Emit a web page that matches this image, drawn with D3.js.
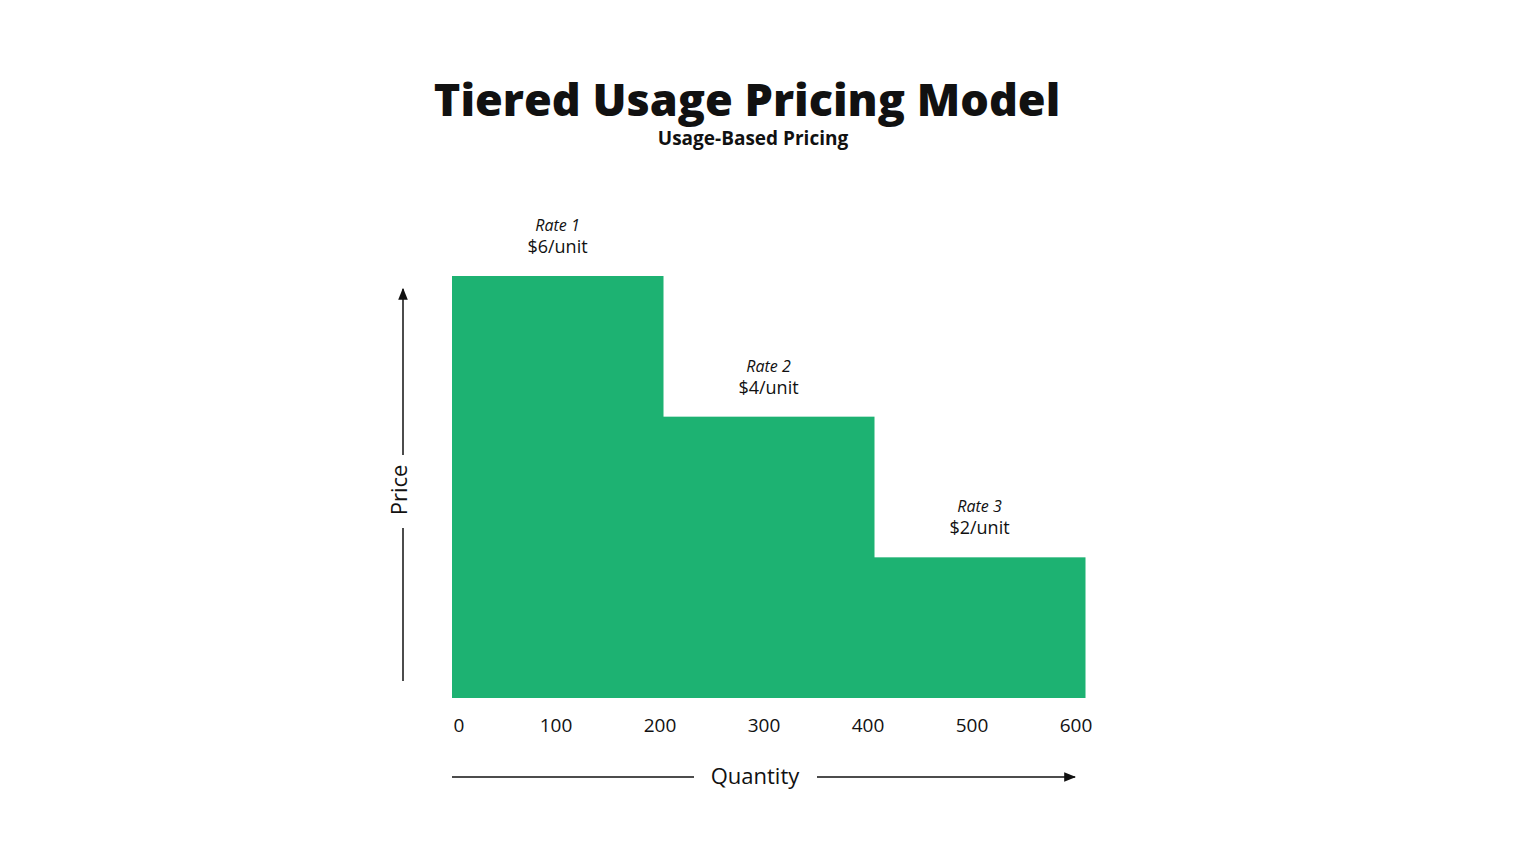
<!DOCTYPE html>
<html><head><meta charset="utf-8">
<script src="https://cdn.jsdelivr.net/npm/d3@7/dist/d3.min.js"></script>
<style>body{margin:0;background:#fff}text{font-family:"Open Sans",sans-serif;fill:#111}</style>
</head><body><svg id="c" width="1536" height="864"></svg>
<script>
const tiers = ["Rate 1","Rate 2","Rate 3"];
const tierStart = [0,200,400];
const tierEnd = [200,400,600];
const prices = [6,4,2];
const priceLabels = ["$6/unit","$4/unit","$2/unit"];
const xTicks = [0,100,200,300,400,500,600];

const svg = d3.select("#c");
const x = d3.scaleLinear().domain([0,600]).range([452,1085]);
const y = d3.scaleLinear().domain([0,6]).range([698,276]);

svg.append("text").attr("x",747).attr("y",116).attr("text-anchor","middle")
  .style("font-size","45px").style("font-weight","800").text("Tiered Usage Pricing Model");
svg.append("text").attr("x",753).attr("y",145).attr("text-anchor","middle")
  .style("font-size","19px").style("font-weight","700").text("Usage-Based Pricing");

const data = tiers.map((t,i)=>({t,s:tierStart[i],e:tierEnd[i],p:prices[i],l:priceLabels[i]}));
svg.selectAll("rect.bar").data(data).join("rect").attr("class","bar")
  .attr("x",d=>x(d.s)).attr("width",d=>x(d.e)-x(d.s)+0.5)
  .attr("y",d=>y(d.p)).attr("height",d=>y(0)-y(d.p)).attr("fill","#1db272");

svg.selectAll("text.rate").data(data).join("text").attr("class","rate")
  .attr("x",d=>x((d.s+d.e)/2)).attr("y",d=>y(d.p)-45).attr("text-anchor","middle")
  .style("font-size","16px").style("font-style","italic").text(d=>d.t);
svg.selectAll("text.pl").data(data).join("text").attr("class","pl")
  .attr("x",d=>x((d.s+d.e)/2)).attr("y",d=>y(d.p)-23).attr("text-anchor","middle")
  .style("font-size","18px").text(d=>d.l);

svg.selectAll("text.tick").data(xTicks).join("text").attr("class","tick")
  .attr("x",d=>x(d)-(d===0?-7:d/600*9)).attr("y",732).attr("text-anchor","middle")
  .style("font-size","19px").text(d=>d);

const defs = svg.append("defs");
defs.append("marker").attr("id","ar").attr("viewBox","0 0 10 10").attr("refX",9).attr("refY",5)
  .attr("markerWidth",8).attr("markerHeight",8).attr("orient","auto")
  .append("path").attr("d","M0,1 L10,5 L0,9 Z").attr("fill","#111");

svg.append("line").attr("x1",452).attr("x2",694).attr("y1",777).attr("y2",777).attr("stroke","#111").attr("stroke-width",1.5);
svg.append("line").attr("x1",817).attr("x2",1075).attr("y1",777).attr("y2",777).attr("stroke","#111").attr("stroke-width",1.5).attr("marker-end","url(#ar)");
svg.append("text").attr("x",755).attr("y",784).attr("text-anchor","middle").style("font-size","22px").text("Quantity");

svg.append("line").attr("x1",403).attr("x2",403).attr("y1",681).attr("y2",528).attr("stroke","#111").attr("stroke-width",1.5);
svg.append("line").attr("x1",403).attr("x2",403).attr("y1",455).attr("y2",289).attr("stroke","#111").attr("stroke-width",1.5).attr("marker-end","url(#ar)");
svg.append("text").attr("transform","translate(407,490) rotate(-90)").attr("text-anchor","middle").style("font-size","22px").text("Price");
</script></body></html>
